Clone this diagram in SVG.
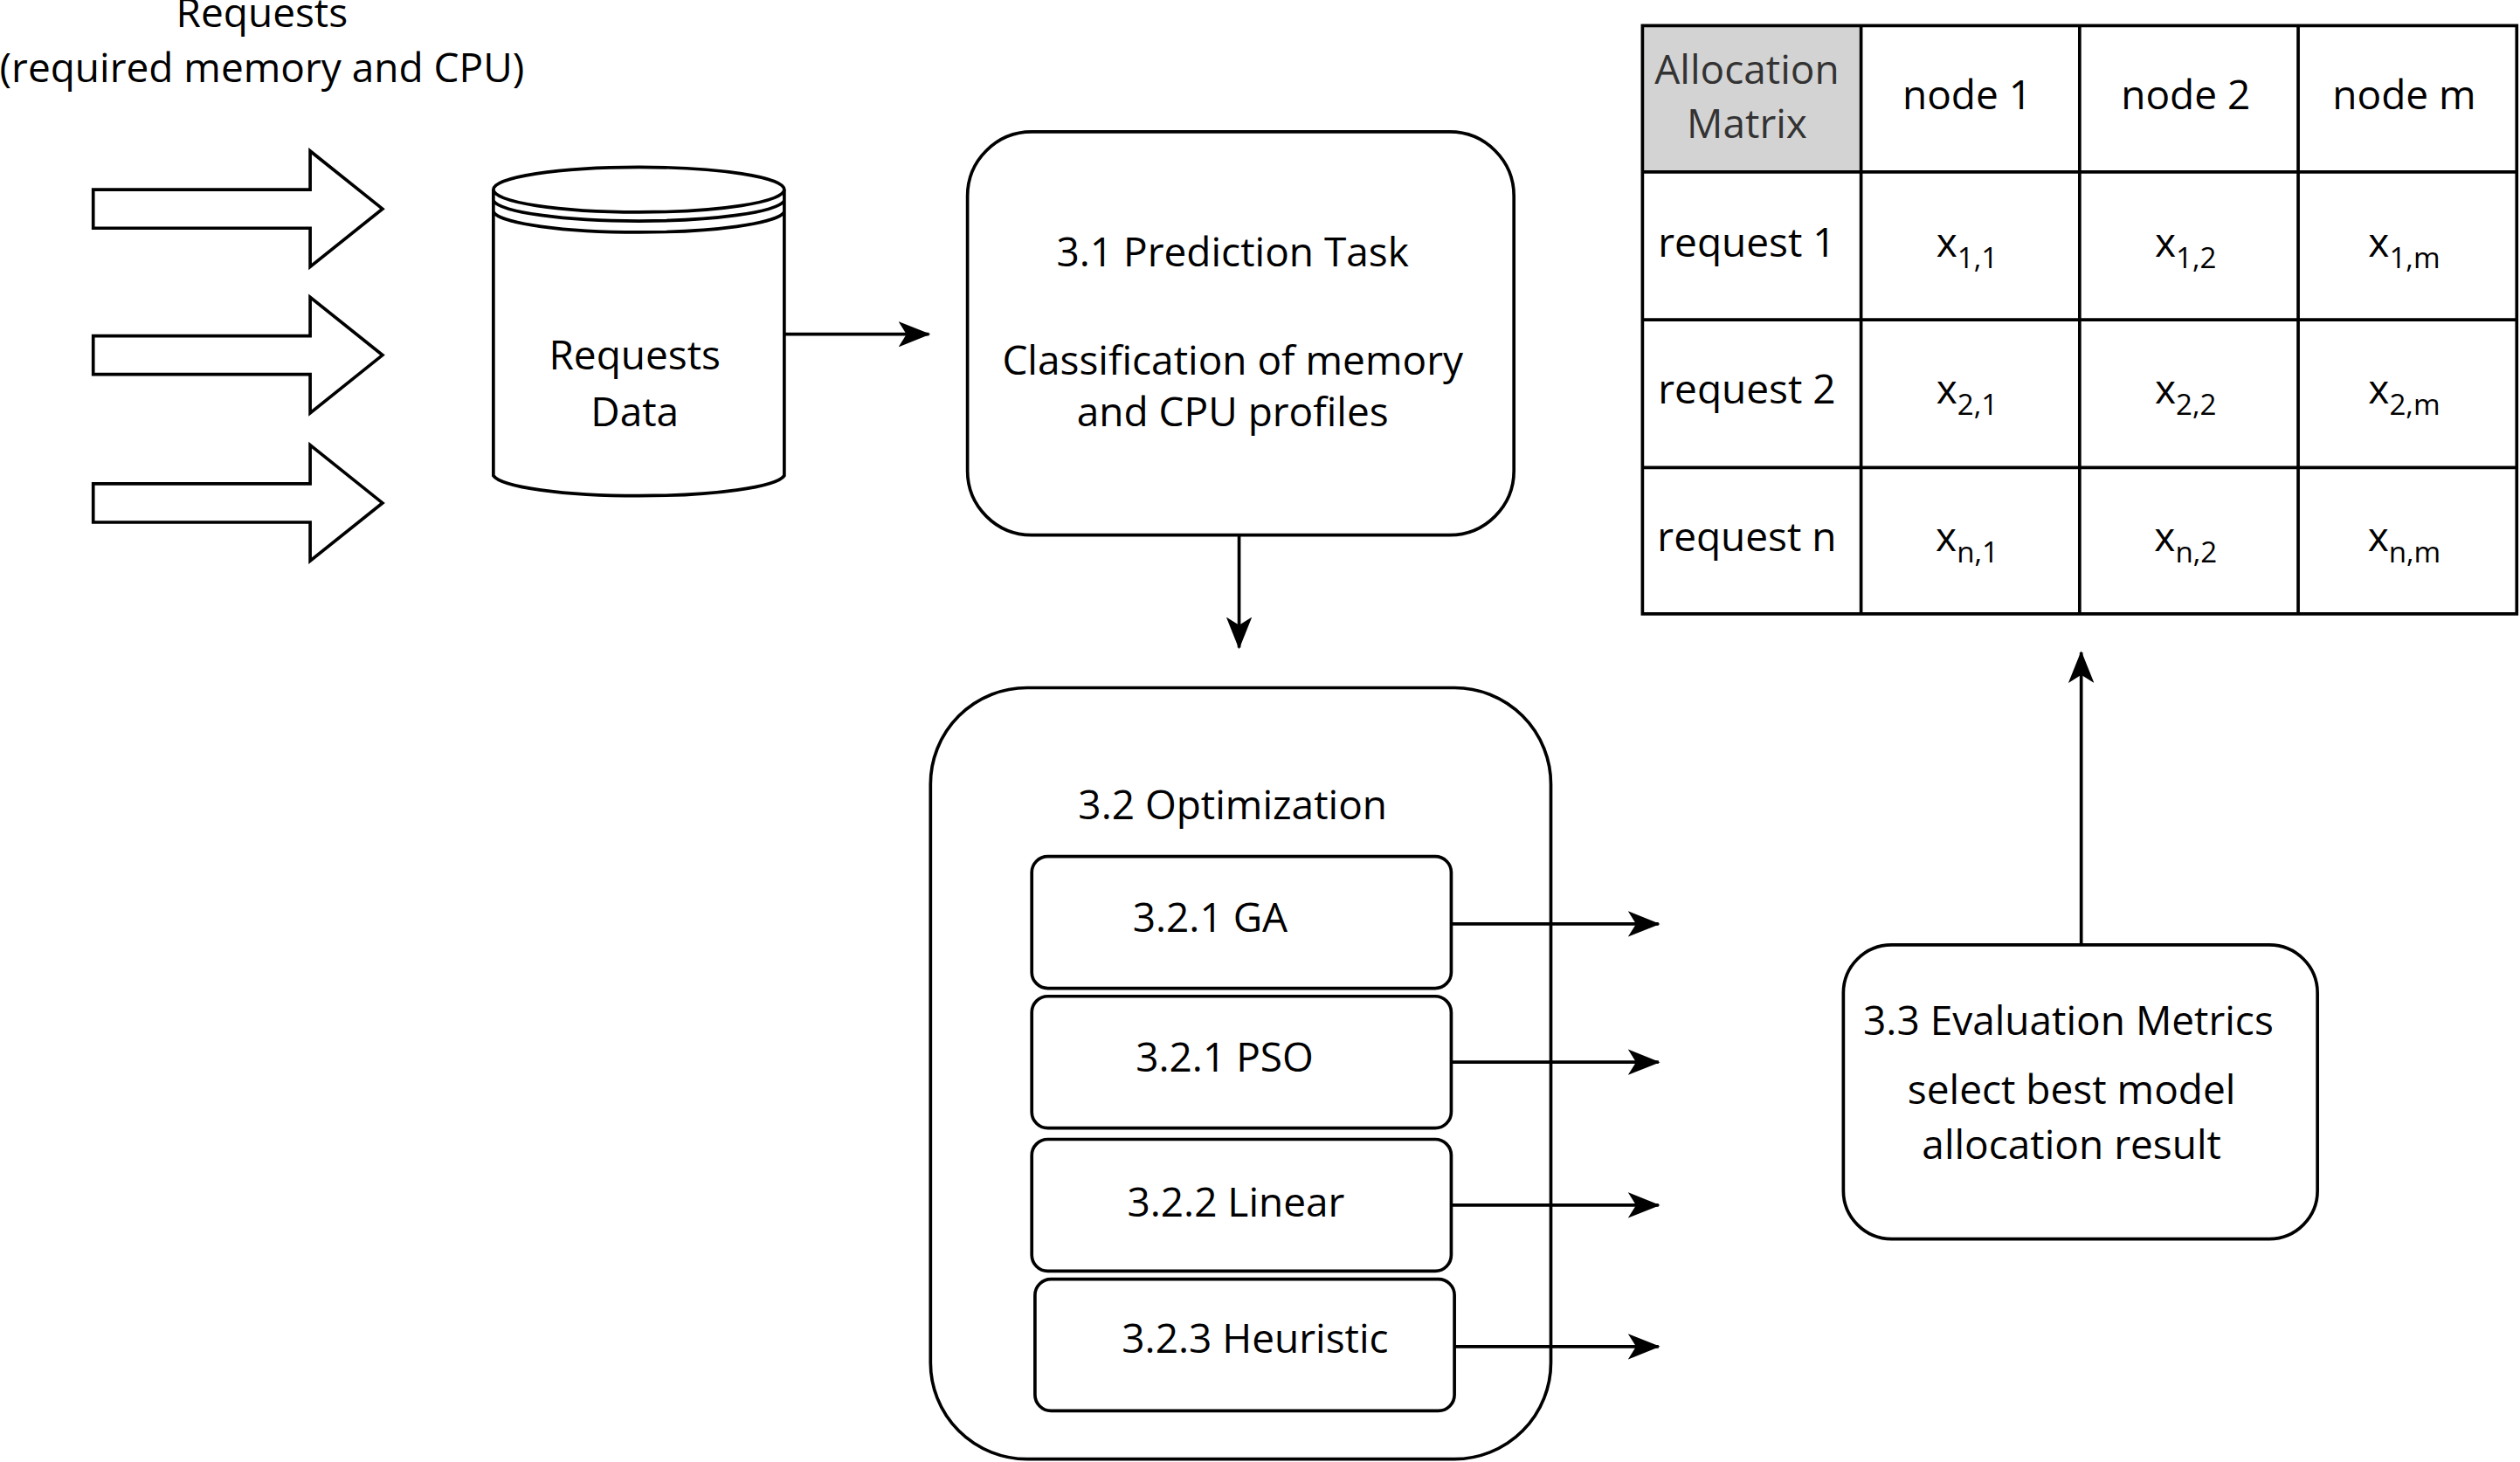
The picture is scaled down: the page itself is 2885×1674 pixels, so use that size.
<svg xmlns="http://www.w3.org/2000/svg" width="2885" height="1674" viewBox="0 0 2885 1674">
<style>
text{font-family:"Open Sans","Liberation Sans",sans-serif;font-size:25px;fill:#000;text-anchor:middle}
.s{fill:#fff;stroke:#000;stroke-width:2}
.l{fill:none;stroke:#000;stroke-width:2}
.sub{font-size:18px}
</style>
<defs>
<marker id="m" viewBox="0 0 20 16" refX="19" refY="8" markerWidth="20" markerHeight="16" markerUnits="userSpaceOnUse" orient="auto"><path d="M0,0L20,8L0,16L5,8z" fill="#000"/></marker></defs>
<rect width="2885" height="1674" fill="#fff"/>
<g transform="scale(1.8399)">
<g id="title"><text x="163" y="17">Requests</text><text x="163" y="51">(required memory and CPU)</text></g>
<g id="inputs">
<path class="s" d="M58,118H193V94L238,130L193,166V142H58Z"/>
<path class="s" d="M58,209H193V185L238,221L193,257V233H58Z"/>
<path class="s" d="M58,301H193V277L238,313L193,349V325H58Z"/>
</g>
<g id="db">
<path class="s" d="M307,118V296A91,14 0 0 0 488,296V118"/>
<ellipse class="s" cx="397.5" cy="118" rx="90.5" ry="14"/>
<path class="l" d="M307,125A91,14 0 0 0 488,125M307,132A91,14 0 0 0 488,132"/>
<text x="395" y="230">Requests</text><text x="395" y="265">Data</text>
</g>
<g id="pred"><rect class="s" x="602" y="82" width="340" height="251" rx="40"/>
<text x="767" y="166">3.1 Prediction Task</text><text x="767" y="233">Classification of memory</text><text x="767" y="265">and CPU profiles</text></g>
<g id="opt"><rect class="s" x="579" y="428" width="386" height="480" rx="60"/>
<text x="767" y="510">3.2 Optimization</text></g>
<g id="ga"><rect class="s" x="642" y="533" width="261" height="82" rx="10"/><text x="753" y="580">3.2.1 GA</text></g>
<g id="pso"><rect class="s" x="642" y="620" width="261" height="82" rx="10"/><text x="762" y="667">3.2.1 PSO</text></g>
<g id="lin"><rect class="s" x="642" y="709" width="261" height="82" rx="10"/><text x="769" y="757">3.2.2 Linear</text></g>
<g id="heu"><rect class="s" x="644" y="796" width="261" height="82" rx="10"/><text x="781" y="842">3.2.3 Heuristic</text></g>
<g id="eval"><rect class="s" x="1147" y="588" width="295" height="183" rx="30"/>
<text x="1287" y="644">3.3 Evaluation Metrics</text><text x="1289" y="687">select best model</text><text x="1289" y="721">allocation result</text></g>
<g id="matrix">
<rect x="1022" y="16" width="136" height="91" fill="#d3d3d3"/>
<path class="l" d="M1022,16H1566V382H1022ZM1022,107H1566M1022,199H1566M1022,291H1566M1158,16V382M1294,16V382M1430,16V382"/>
<text x="1087" y="52" style="fill:#333">Allocation</text><text x="1087" y="86" style="fill:#333">Matrix</text>
<text x="1224" y="68">node 1</text><text x="1360" y="68">node 2</text><text x="1496" y="68">node m</text>
<text x="1087" y="160">request 1</text><text x="1087" y="251">request 2</text><text x="1087" y="343">request n</text>
<text x="1224" y="160">x<tspan class="sub" dy="7">1,1</tspan></text>
<text x="1360" y="160">x<tspan class="sub" dy="7">1,2</tspan></text>
<text x="1496" y="160">x<tspan class="sub" dy="7">1,m</tspan></text>
<text x="1224" y="251">x<tspan class="sub" dy="7">2,1</tspan></text>
<text x="1360" y="251">x<tspan class="sub" dy="7">2,2</tspan></text>
<text x="1496" y="251">x<tspan class="sub" dy="7">2,m</tspan></text>
<text x="1224" y="343">x<tspan class="sub" dy="7">n,1</tspan></text>
<text x="1360" y="343">x<tspan class="sub" dy="7">n,2</tspan></text>
<text x="1496" y="343">x<tspan class="sub" dy="7">n,m</tspan></text>
</g>
<g id="connectors" class="l">
<path d="M488,208H578" marker-end="url(#m)"/>
<path d="M771,333V403" marker-end="url(#m)"/>
<path d="M903,575H1032" marker-end="url(#m)"/>
<path d="M903,661H1032" marker-end="url(#m)"/>
<path d="M903,750H1032" marker-end="url(#m)"/>
<path d="M905,838H1032" marker-end="url(#m)"/>
<path d="M1295,588V406" marker-end="url(#m)"/>
</g>
</g>
</svg>
